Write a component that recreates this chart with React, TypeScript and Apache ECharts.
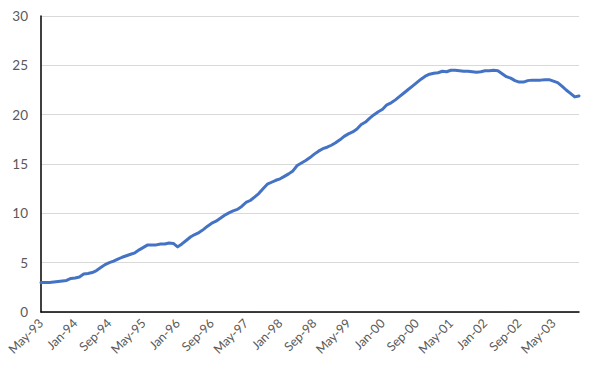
import React, { useEffect, useRef } from "react";
import * as echarts from "echarts";

const monthNames = ["Jan", "Feb", "Mar", "Apr", "May", "Jun", "Jul", "Aug", "Sep", "Oct", "Nov", "Dec"];
const startYear = 1993;
const startMonth = 4; // May

const values: number[] = [
  3.0, 3.0, 3.0, 3.05, 3.1, 3.15, 3.2, 3.4, 3.45, 3.55,
  3.85, 3.9, 4.0, 4.2, 4.5, 4.8, 5.0, 5.15, 5.35, 5.55,
  5.7, 5.85, 6.0, 6.3, 6.55, 6.8, 6.8, 6.8, 6.9, 6.9,
  7.0, 6.95, 6.6, 6.9, 7.25, 7.6, 7.85, 8.05, 8.35, 8.7,
  9.0, 9.2, 9.5, 9.8, 10.05, 10.25, 10.4, 10.7, 11.1, 11.3,
  11.65, 12.0, 12.5, 12.95, 13.15, 13.35, 13.5, 13.75, 14.0, 14.3,
  14.85, 15.1, 15.35, 15.65, 16.0, 16.3, 16.55, 16.7, 16.9, 17.15,
  17.45, 17.8, 18.05, 18.25, 18.55, 19.0, 19.25, 19.65, 20.0, 20.3,
  20.55, 21.0, 21.2, 21.5, 21.85, 22.2, 22.55, 22.9, 23.25, 23.6,
  23.9, 24.1, 24.2, 24.25, 24.4, 24.35, 24.5, 24.5, 24.45, 24.4,
  24.4, 24.35, 24.3, 24.35, 24.45, 24.45, 24.5, 24.45, 24.15, 23.85,
  23.7, 23.45, 23.3, 23.3, 23.45, 23.5, 23.5, 23.5, 23.55, 23.55,
  23.4, 23.25, 22.9, 22.5, 22.15, 21.8, 21.9,
];

const categories: string[] = values.map((_, i) => {
  const m = startMonth + i;
  const y = startYear + Math.floor(m / 12);
  return monthNames[m % 12] + "-" + String(y % 100).padStart(2, "0");
});

const yMin = 0;
const yMax = 30;
const yStep = 5;

export default function App() {
  const ref = useRef<HTMLDivElement>(null);
  useEffect(() => {
    if (!ref.current) return;
    const chart = echarts.init(ref.current, undefined, { renderer: "svg" });
    chart.setOption({
      animation: false,
      grid: { left: 41, right: 25, top: 16, bottom: 59, containLabel: false },
      xAxis: {
        type: "category",
        data: categories,
        boundaryGap: false,
        axisLine: { show: true, lineStyle: { color: "#000000", width: 1.5 } },
        axisTick: { show: false },
        axisLabel: {
          interval: 7,
          rotate: 45,
          margin: 9,
          color: "#595959",
          fontSize: 12.5,
          fontFamily: "Lato, 'Open Sans', sans-serif",
        },
        splitLine: { show: false },
      },
      yAxis: {
        type: "value",
        min: yMin,
        max: yMax,
        interval: yStep,
        axisLine: { show: true, lineStyle: { color: "#000000", width: 1.5 } },
        axisTick: { show: false },
        axisLabel: {
          margin: 13,
          color: "#595959",
          fontSize: 13.5,
          fontFamily: "Lato, 'Open Sans', sans-serif",
        },
        splitLine: { show: true, lineStyle: { color: "#d9d9d9", width: 1 } },
      },
      series: [
        {
          type: "line",
          data: values,
          showSymbol: false,
          symbol: "none",
          lineStyle: { color: "#4472C4", width: 3, cap: "round", join: "round" },
        },
      ],
    });
    return () => chart.dispose();
  }, []);
  return (
    <div
      ref={ref}
      style={{ position: "fixed", left: 0, top: 0, width: 604, height: 371, background: "#ffffff" }}
    />
  );
}
